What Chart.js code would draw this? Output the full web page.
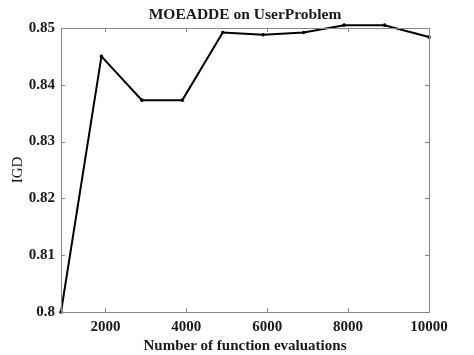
<!DOCTYPE html>
<html>
<head>
<meta charset="utf-8">
<script src="https://cdn.jsdelivr.net/npm/chart.js@4"></script>
<style>
    html, body { margin: 0; padding: 0; background: #fff; }
    #wrap { width: 474px; height: 355px; }
</style>
</head>
<body>
<div id="wrap"><canvas id="igdChart"></canvas></div>
<script>
const evaluations = [900, 1900, 2900, 3900, 4900, 5900, 6900, 7900, 8900, 10000];
const igdValues = [0.8, 0.845, 0.8373, 0.8373, 0.8492, 0.8488, 0.8492, 0.8505, 0.8505, 0.8484];
const xTicks = [2000, 4000, 6000, 8000, 10000];
const yTicks = [0.8, 0.81, 0.82, 0.83, 0.84, 0.85];
const chartTitle = 'MOEADDE on UserProblem';

const serif = 'Liberation Serif, Times New Roman, serif';
const textColor = '#1a1a1a';

// MATLAB-like box with inward ticks, title centred over the axes
const boxPlugin = {
    id: 'boxTicks',
    afterDatasetsDraw(chart) {
        const { ctx, chartArea: a, scales } = chart;
        ctx.save();
        ctx.strokeStyle = '#888';
        ctx.lineWidth = 1;
        ctx.strokeRect(a.left + 0.5, a.top + 0.5, a.right - a.left, a.bottom - a.top);
        ctx.beginPath();
        const len = 4;
        xTicks.forEach(v => {
            const x = Math.round(scales.x.getPixelForValue(v)) + 0.5;
            ctx.moveTo(x, a.bottom); ctx.lineTo(x, a.bottom - len);
            ctx.moveTo(x, a.top); ctx.lineTo(x, a.top + len);
        });
        yTicks.forEach(v => {
            const y = Math.round(scales.y.getPixelForValue(v)) + 0.5;
            ctx.moveTo(a.left, y); ctx.lineTo(a.left + len, y);
            ctx.moveTo(a.right, y); ctx.lineTo(a.right - len, y);
        });
        ctx.stroke();

        ctx.fillStyle = textColor;
        ctx.font = `bold 15.5px ${serif}`;
        ctx.textAlign = 'center';
        ctx.textBaseline = 'middle';
        ctx.fillText(chartTitle, (a.left + a.right) / 2, 15);
        ctx.restore();
    }
};

new Chart(document.getElementById('igdChart').getContext('2d'), {
    type: 'line',
    data: {
        datasets: [{
            label: 'IGD',
            data: evaluations.map((x, i) => ({ x, y: igdValues[i] })),
            borderColor: '#000',
            backgroundColor: '#000',
            borderWidth: 2,
            pointRadius: 1.8,
            pointBackgroundColor: '#000',
            pointBorderWidth: 0,
            tension: 0,
            clip: false,
        }]
    },
    options: {
        responsive: true,
        maintainAspectRatio: false,
        animation: false,
        layout: { padding: { left: 0, right: 45, top: 28, bottom: 0 } },
        plugins: {
            legend: { display: false },
            tooltip: { enabled: false },
            title: { display: false }
        },
        scales: {
            x: {
                type: 'linear',
                min: 900,
                max: 10000,
                afterBuildTicks: (scale) => { scale.ticks = xTicks.map(v => ({ value: v })); },
                afterFit: (scale) => { scale.height = 43; },
                grid: { display: false, drawTicks: false },
                border: { display: false },
                ticks: {
                    color: textColor,
                    padding: 6,
                    maxRotation: 0,
                    callback: (v) => String(v),
                    font: { family: serif, size: 15, weight: 'bold' }
                },
                title: {
                    display: true,
                    text: 'Number of function evaluations',
                    color: textColor,
                    padding: { top: 0, bottom: 0 },
                    font: { family: serif, size: 15, weight: 'bold' }
                }
            },
            y: {
                min: 0.8,
                max: 0.85,
                afterBuildTicks: (scale) => { scale.ticks = yTicks.map(v => ({ value: v })); },
                afterFit: (scale) => { scale.width = 61; },
                grid: { display: false, drawTicks: false },
                border: { display: false },
                ticks: {
                    color: textColor,
                    padding: 6,
                    callback: (v) => String(parseFloat(v.toFixed(2))),
                    font: { family: serif, size: 15, weight: 'bold' }
                },
                title: {
                    display: true,
                    text: 'IGD',
                    color: textColor,
                    padding: { top: 9, bottom: 0 },
                    font: { family: serif, size: 15 }
                }
            }
        }
    },
    plugins: [boxPlugin]
});
</script>
</body>
</html>
